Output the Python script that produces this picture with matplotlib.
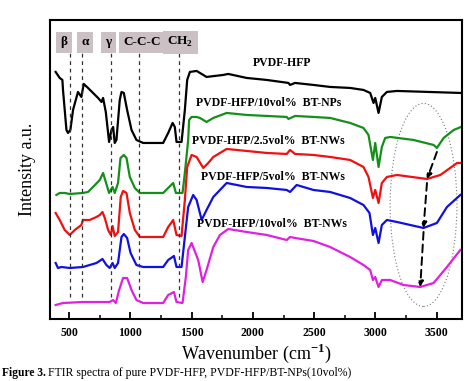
import numpy as np
import matplotlib.pyplot as plt
from matplotlib.patches import Ellipse
from matplotlib.ticker import MultipleLocator

plt.rcParams["font.family"] = "Liberation Serif"
plt.rcParams["font.weight"] = "bold"
plt.rcParams["mathtext.fontset"] = "custom"
plt.rcParams["mathtext.rm"] = "Liberation Serif:bold"
plt.rcParams["mathtext.bf"] = "Liberation Serif:bold"

# spectra (wavenumber cm-1, intensity a.u.)
wn_pure = [391, 424, 446, 451, 479, 492, 511, 533, 573, 601, 620, 655, 696, 737, 765, 778, 800, 827, 846,
           860, 873, 887, 914, 928, 947, 974, 1010, 1050, 1105, 1268, 1309, 1345, 1363, 1377, 1418, 1445,
           1464, 1486, 1541, 1622, 1758, 1799, 1949, 2113, 2290, 2303, 2344, 2494, 2630, 2793, 2902, 2957,
           2984, 2998, 3025, 3052, 3093, 3175, 3692]
i_pure = [24.7, 24.1, 23.9, 22.9, 18.9, 18.6, 18.9, 20.9, 22.7, 22.2, 23.5, 23.1, 22.6, 22.1, 21.7, 22.1,
          20.7, 17.7, 18.9, 19.2, 17.6, 17.9, 21.9, 22.7, 22.6, 20.9, 18.9, 17.9, 17.6, 17.6, 18.6, 19.6,
          19.2, 17.7, 17.7, 20.9, 23.9, 24.7, 24.8, 24.2, 24.4, 24.5, 24.1, 23.9, 23.6, 23.4, 23.6, 23.4,
          23.2, 23.1, 22.9, 22.6, 21.6, 22.1, 20.6, 22.2, 22.7, 22.8, 22.6]

wn_np10 = [397, 424, 465, 506, 614, 655, 696, 751, 778, 800, 827, 855, 873, 900, 920, 947, 969, 996, 1037,
           1078, 1268, 1309, 1350, 1372, 1426, 1445, 1472, 1480, 1500, 1541, 1568, 1622, 1677, 1786, 1949,
           2113, 2276, 2290, 2344, 2494, 2630, 2793, 2902, 2943, 2979, 2998, 3025, 3052, 3079, 3120, 3310,
           3474, 3501, 3556, 3638, 3698]
i_np10 = [12.4, 12.6, 12.6, 12.5, 12.6, 12.7, 13.2, 13.9, 14.6, 13.7, 12.6, 13.2, 12.6, 13.6, 16.1, 16.4,
          16.1, 14.2, 13.1, 12.6, 12.6, 13.1, 13.6, 12.6, 12.6, 14.6, 17.9, 19.9, 20.2, 20.2, 20.1, 19.7,
          20.1, 20.6, 20.4, 20.3, 20.2, 20.0, 20.3, 20.2, 20.1, 19.6, 19.1, 18.4, 15.9, 17.6, 15.2, 17.2,
          18.1, 18.2, 17.9, 17.4, 17.1, 18.1, 18.9, 19.2]

wn_nw25 = [391, 424, 465, 506, 547, 601, 614, 669, 724, 751, 773, 792, 819, 841, 855, 873, 900, 922, 941,
           969, 996, 1037, 1078, 1268, 1309, 1350, 1377, 1418, 1445, 1464, 1500, 1541, 1595, 1636, 1677,
           1786, 1949, 2113, 2276, 2303, 2344, 2494, 2630, 2793, 2902, 2943, 2979, 2998, 3025, 3052, 3093,
           3175, 3420, 3529, 3666, 3698]
i_nw25 = [10.6, 9.9, 8.9, 8.4, 8.9, 9.4, 9.9, 9.9, 10.2, 10.4, 10.7, 10.1, 8.9, 8.4, 9.3, 8.3, 8.7, 12.2,
          12.8, 12.6, 10.6, 8.9, 8.2, 8.2, 9.2, 9.9, 8.4, 8.3, 11.9, 15.2, 16.4, 16.2, 15.1, 15.6, 16.2,
          17.0, 16.8, 16.6, 16.5, 16.9, 16.5, 16.4, 16.2, 15.9, 15.2, 14.2, 12.1, 12.9, 11.6, 13.6, 14.2,
          14.4, 14.0, 14.4, 15.6, 15.6]

wn_nw5 = [391, 410, 438, 506, 614, 724, 773, 805, 832, 855, 873, 900, 928, 947, 974, 1002, 1050, 1105,
          1268, 1309, 1356, 1377, 1418, 1445, 1472, 1513, 1541, 1582, 1622, 1677, 1786, 1949, 2113, 2276,
          2303, 2357, 2494, 2630, 2793, 2902, 2951, 2979, 2998, 3025, 3052, 3093, 3175, 3392, 3501, 3583,
          3692]
i_nw5 = [5.6, 5.1, 5.2, 5.1, 5.2, 5.6, 6.0, 5.4, 5.1, 5.6, 5.1, 5.6, 8.2, 8.5, 8.1, 6.6, 5.4, 5.2, 5.2,
         5.9, 6.3, 5.2, 5.2, 8.2, 11.2, 12.4, 11.9, 9.9, 10.9, 12.2, 13.6, 13.2, 13.1, 12.9, 12.7, 13.4,
         12.9, 12.7, 12.1, 11.4, 10.6, 8.4, 9.1, 7.6, 9.4, 9.9, 9.7, 9.1, 9.6, 11.2, 12.4]

wn_nw10 = [391, 451, 614, 832, 860, 882, 909, 941, 974, 1010, 1050, 1105, 1268, 1309, 1356, 1377, 1426,
           1453, 1472, 1500, 1554, 1590, 1622, 1677, 1731, 1799, 1949, 2113, 2276, 2303, 2344, 2494, 2630,
           2793, 2902, 2957, 2979, 2998, 3025, 3052, 3120, 3229, 3365, 3474, 3583, 3692]
i_nw10 = [1.4, 1.6, 1.7, 1.7, 1.9, 1.6, 2.9, 4.1, 4.1, 2.9, 1.9, 1.6, 1.6, 2.4, 2.7, 1.7, 1.6, 4.2, 6.9,
          7.6, 5.9, 3.7, 4.9, 7.2, 8.4, 9.0, 8.7, 8.4, 7.9, 8.2, 8.1, 7.8, 7.2, 6.2, 5.4, 4.9, 3.9, 4.2,
          3.2, 3.9, 3.9, 3.4, 3.2, 3.6, 5.2, 6.9]

series = [
    (wn_pure, i_pure, "black", "PVDF-HFP"),
    (wn_np10, i_np10, "#14901a", "PVDF-HFP/10vol%  BT-NPs"),
    (wn_nw25, i_nw25, "#f01010", "PVDF-HFP/2.5vol%  BT-NWs"),
    (wn_nw5, i_nw5, "#1010e0", "PVDF-HFP/5vol%  BT-NWs"),
    (wn_nw10, i_nw10, "#e020e0", "PVDF-HFP/10vol%  BT-NWs"),
]

bands = [510, 610, 840, 1070, 1400]
band_names = ["β", "α", "γ", "C-C-C", "CH$_\\mathbf{2}$"]

fig = plt.figure(figsize=(4.74, 3.81), dpi=100)
ax = fig.add_axes([0.1055, 0.1627, 0.869, 0.785])

for wn, inten, c, name in series:
    ax.plot(wn, inten, color=c, lw=1.6)

# curve labels
label_pos = [(2240, 25.6), (1535, 21.6), (1505, 17.8), (1575, 14.2), (1545, 9.5)]
for (x, y), (_, _, _, name) in zip(label_pos, series):
    ax.text(x, y, name, fontsize=8.5, ha="left" if x < 2000 else "center", va="center")

# band markers
box_x = [457, 630, 822, 1100, 1410]
for b, bx, nm in zip(bands, box_x, band_names):
    ax.plot([b, b], [2.2, 26.7], color="#333333", lw=0.9, ls=(0, (3, 3)))
    ax.text(bx, 27.65, nm, fontsize=9.5, ha="center", va="center",
            bbox=dict(boxstyle="square,pad=0.33", facecolor="#cbc1c4", edgecolor="none"))

# O-H region: arrows between the minima of the filled composites
mins = []
for wn, inten, _, _ in series[1:]:
    wn = np.array(wn)
    inten = np.array(inten)
    m = wn > 3300
    k = np.argmin(inten[m])
    mins.append((wn[m][k], inten[m][k]))
for (x0, y0), (x1, y1) in zip(mins[:-1], mins[1:]):
    ax.annotate("", xy=(x1, y1), xytext=(x0, y0 - 0.4),
                arrowprops=dict(arrowstyle="-|>", color="black", lw=1.4, ls=(0, (4, 2.5)),
                                mutation_scale=8, shrinkA=0, shrinkB=0))
ax.add_patch(Ellipse((3392, 11.4), 545, 20.3, fill=False, edgecolor="#777777", lw=0.8, ls=(0, (1, 2))))

ax.set_xlim(345, 3705)
ax.set_ylim(0, 29.9)
ax.set_yticks([])
ax.xaxis.set_major_locator(MultipleLocator(500))
ax.xaxis.set_minor_locator(MultipleLocator(250))
ax.tick_params(axis="x", which="major", direction="in", length=5, width=1.3, labelsize=8.5, pad=6)
ax.tick_params(axis="x", which="minor", direction="in", length=3, width=1.1)
for s in ax.spines.values():
    s.set_linewidth(1.5)
ax.set_xlabel("Wavenumber (cm$^{\\mathbf{-1}}$)", fontsize=13, labelpad=2)
ax.set_ylabel("Intensity a.u.", fontsize=13, labelpad=10)

fig.text(0.004, 0.004, "Figure 3.", fontsize=8.3, fontweight="bold", va="bottom", ha="left")
fig.text(0.102, 0.004, "FTIR spectra of pure PVDF-HFP, PVDF-HFP/BT-NPs(10vol%)", fontsize=8.5,
         fontweight="normal", va="bottom")

fig.savefig("out.png", dpi=100)
